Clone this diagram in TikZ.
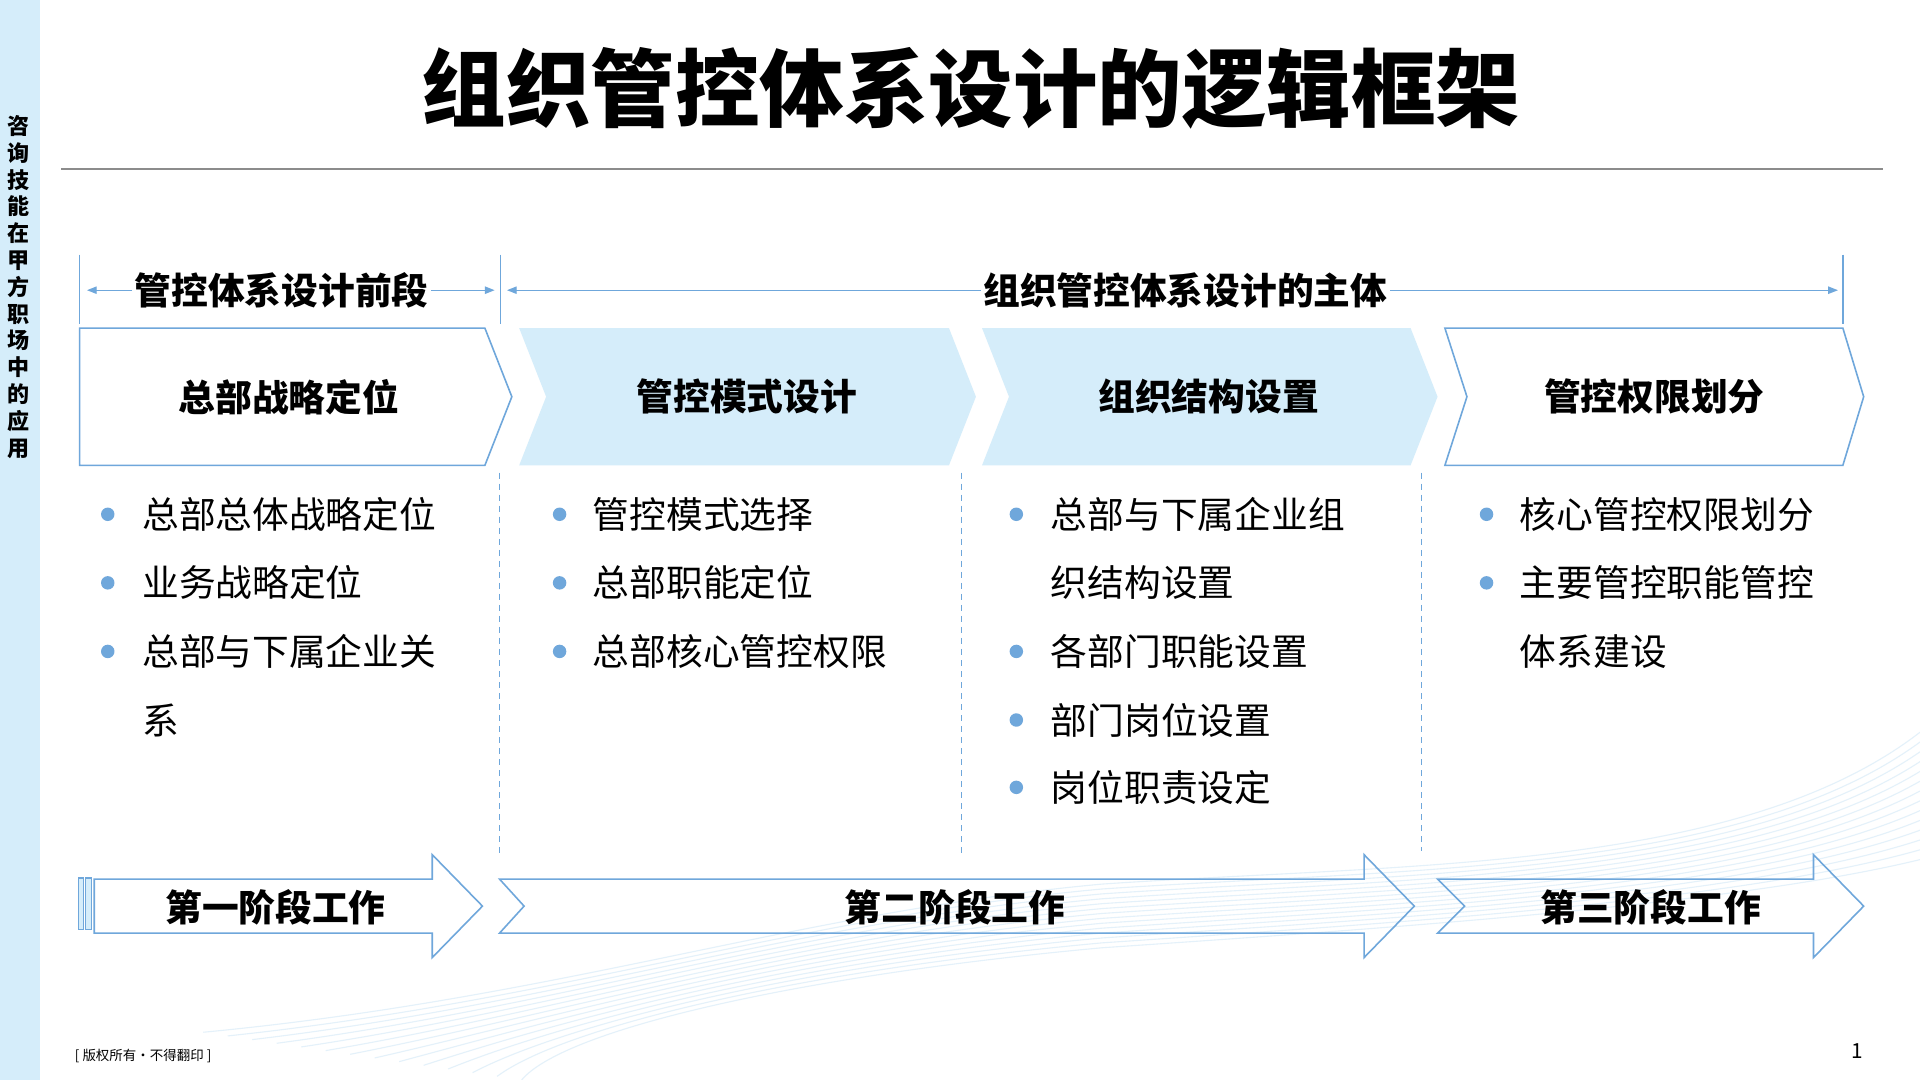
\documentclass[tikz,border=0pt]{standalone}
\usepackage{fontspec}
\setmainfont{Noto Sans CJK SC}
\usetikzlibrary{arrows.meta}
\definecolor{lb}{HTML}{D5EDFA}
\definecolor{bl}{HTML}{6FA7DB}
\definecolor{sw}{HTML}{E4F1FA}
\definecolor{rulegray}{HTML}{8C8C8C}
\tikzset{
  chevout/.style={draw=bl, line width=1.3pt, fill=white},
  chevfill/.style={fill=lb, draw=none},
  chevtxt/.style={font=\fontsize{30}{36}\selectfont\bfseries, inner sep=0pt},
  hdrtxt/.style={font=\fontsize{30}{36}\selectfont\bfseries, inner sep=2pt},
  bultxt/.style={font=\fontsize{30}{36}\selectfont, anchor=west, inner sep=0pt},
  dot/.style={circle, fill=bl, draw=none, minimum size=11pt, inner sep=0pt},
  tick/.style={draw=bl, line width=1.1pt},
  brk/.style={draw=bl, line width=1.1pt, -{Triangle[length=8pt,width=6pt]}},
  sep/.style={draw=bl, line width=1.1pt, dash pattern=on 5pt off 4pt},
  bigarrow/.style={draw=bl, line width=1.3pt, line join=miter},
  stripe/.style={draw=bl, line width=0.9pt, fill=lb},
  arrtxt/.style={font=\fontsize{30}{36}\selectfont\bfseries, inner sep=0pt},
  swoosh/.style={draw=sw, line width=0.9pt},
}
\begin{document}
\begin{tikzpicture}[x=1pt,y=-1pt]
\useasboundingbox (0,0) rectangle (1568,882);
\fill[white] (0,0) rectangle (1568,882);
% background swoosh
\begin{scope}
\clip (0,0) rectangle (1568,882);
\foreach \i in {0,...,13}{
  \draw[swoosh] ({166+20*\i},{843+3*\i}) .. controls (460,{815+2*\i}) and (650,{745+4*\i}) .. (900,{722+4*\i})
     .. controls (1150,{705+4*\i}) and (1420,{712+2*\i}) .. (1568,{598+8*\i});
}
\end{scope}
% sidebar
\fill[lb] (0,0) rectangle (33,882);
\node[font=\fontsize{18}{21.9}\selectfont\bfseries, align=center, inner sep=0pt, anchor=north] (side) at (15,94) {咨\\询\\技\\能\\在\\甲\\方\\职\\场\\中\\的\\应\\用};
% title
\node[font=\fontsize{69}{72}\selectfont\bfseries, inner sep=0pt] (title) at (793,72) {组织管控体系设计的逻辑框架};
\draw[rulegray, line width=0.9pt] (50,138) -- (1538,138);
% header brackets
\draw[tick] (65,208) -- (65,265);
\draw[tick] (409,208) -- (409,265);
\draw[tick] (1505,208) -- (1505,265);
\node[hdrtxt] (h1) at (230,237) {管控体系设计前段};
\node[hdrtxt] (h2) at (968,237) {组织管控体系设计的主体};
\coordinate (h1l) at (71,237);
\coordinate (h1r) at (404,237);
\coordinate (h2l) at (414,237);
\coordinate (h2r) at (1501,237);
\draw[brk] (h1.west) -- (h1l);
\draw[brk] (h1.east) -- (h1r);
\draw[brk] (h2.west) -- (h2l);
\draw[brk] (h2.east) -- (h2r);
% chevrons
\draw[chevout] (65,268) -- (396,268) -- (418,324) -- (396,380) -- (65,380) -- cycle;
\fill[chevfill] (424,268) -- (775,268) -- (797,324) -- (775,380) -- (424,380) -- (446,324) -- cycle;
\fill[chevfill] (802,268) -- (1152,268) -- (1174,324) -- (1152,380) -- (802,380) -- (824,324) -- cycle;
\draw[chevout] (1180,268) -- (1505,268) -- (1522,324) -- (1505,380) -- (1180,380) -- (1198,324) -- cycle;
\node[chevtxt] (c1) at (236,324) {总部战略定位};
\node[chevtxt] (c2) at (610,324) {管控模式设计};
\node[chevtxt] (c3) at (987,324) {组织结构设置};
\node[chevtxt] (c4) at (1351,324) {管控权限划分};
% separators
\draw[sep] (408,386) -- (408,700);
\draw[sep] (785,386) -- (785,700);
\draw[sep] (1161,386) -- (1161,695);
% column 1
\node[dot] (d11) at (88,420) {};
\node[bultxt] (t11) at (116,420) {总部总体战略定位};
\node[dot] (d12) at (88,476) {};
\node[bultxt] (t12) at (116,476) {业务战略定位};
\node[dot] (d13) at (88,532) {};
\node[bultxt] (t13) at (116,532) {总部与下属企业关};
\node[bultxt] (t13b) at (116,588) {系};
% column 2
\node[dot] (d21) at (457,420) {};
\node[bultxt] (t21) at (484,420) {管控模式选择};
\node[dot] (d22) at (457,476) {};
\node[bultxt] (t22) at (484,476) {总部职能定位};
\node[dot] (d23) at (457,532) {};
\node[bultxt] (t23) at (484,532) {总部核心管控权限};
% column 3
\node[dot] (d31) at (830,420) {};
\node[bultxt] (t31) at (858,420) {总部与下属企业组};
\node[bultxt] (t31b) at (858,476) {织结构设置};
\node[dot] (d32) at (830,532) {};
\node[bultxt] (t32) at (858,532) {各部门职能设置};
\node[dot] (d33) at (830,588) {};
\node[bultxt] (t33) at (858,588) {部门岗位设置};
\node[dot] (d34) at (830,643) {};
\node[bultxt] (t34) at (858,643) {岗位职责设定};
% column 4
\node[dot] (d41) at (1214,420) {};
\node[bultxt] (t41) at (1241,420) {核心管控权限划分};
\node[dot] (d42) at (1214,476) {};
\node[bultxt] (t42) at (1241,476) {主要管控职能管控};
\node[bultxt] (t42b) at (1241,532) {体系建设};
% bottom arrows
\draw[stripe] (64,717) rectangle (68,759);
\draw[stripe] (69.5,717) rectangle (75,759);
\draw[bigarrow, fill=white] (77,718) -- (353,718) -- (353,698) -- (394,740) -- (353,782) -- (353,762) -- (77,762) -- cycle;
\draw[bigarrow] (408,718) -- (1114,718) -- (1114,698) -- (1155,740) -- (1114,782) -- (1114,762) -- (408,762) -- (428,740) -- cycle;
\draw[bigarrow] (1174,718) -- (1481,718) -- (1481,698) -- (1522,740) -- (1481,782) -- (1481,762) -- (1174,762) -- (1196,740) -- cycle;
\node[arrtxt] (a1) at (225,741) {第一阶段工作};
\node[arrtxt] (a2) at (780,741) {第二阶段工作};
\node[arrtxt] (a3) at (1348,741) {第三阶段工作};
% footer
\node[font=\fontsize{11}{13}\selectfont, anchor=west, inner sep=0pt] (foot) at (61,862) {[ 版权所有·不得翻印 ]};
\node[font=\fontsize{17}{20}\selectfont, inner sep=0pt] (pg) at (1517,858) {1};
\end{tikzpicture}
\end{document}
